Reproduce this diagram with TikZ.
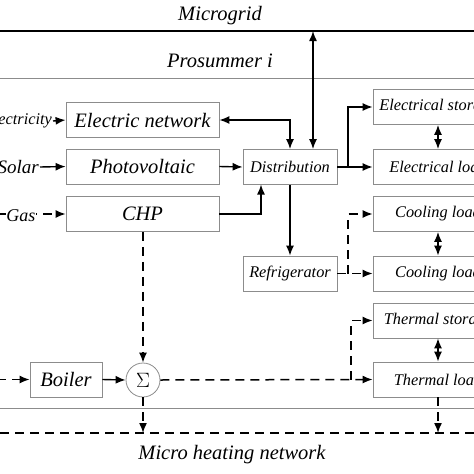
\documentclass[tikz,border=0pt]{standalone}
\usepackage{fontspec}
\setmainfont{Liberation Serif}
\usetikzlibrary{arrows.meta,calc}
\begin{document}
\begin{tikzpicture}[x=1pt,y=-1pt,
  fbig/.style={font=\fontsize{20.5}{24}\selectfont\itshape},
  fsmall/.style={font=\fontsize{16.3}{19}\selectfont\itshape},
  blk/.style={draw=black!45,line width=0.8pt,inner sep=0pt,minimum height=35pt},
  lbox/.style={blk,fbig,minimum width=153pt},
  mbox/.style={blk,fsmall,minimum width=94pt},
  rbox/.style={blk,fsmall,minimum width=130pt},
  tip/.style={-{Latex[length=10pt,width=8pt]}},
  dtip/.style={{Latex[length=10pt,width=8pt]}-{Latex[length=10pt,width=8pt]}},
  conn/.style={tip,line width=1.4pt},
  dconn/.style={dtip,line width=1.4pt},
  dashline/.style={line width=1.5pt,dash pattern=on 9pt off 6pt},
  dasharr/.style={dashline,tip},
  plain/.style={inner sep=1pt}
]
\useasboundingbox (0,0) rectangle (474,474);
% top labels and lines
\node[plain,fbig] (mgl) at (220,16) {Microgrid};
\node[plain,fbig] (psl) at (220,61) {Prosummer i};
\coordinate (mgL) at (0,31);
\coordinate (mgR) at (474,31);
\draw[line width=1.6pt] (mgL) -- (mgR);
\coordinate (pTL) at (0,78);
\coordinate (pTR) at (474,78);
\coordinate (pBL) at (0,408);
\coordinate (pBR) at (474,408);
\draw[black!45,line width=0.8pt] (pTL) -- (pTR);
\draw[black!45,line width=0.8pt] (pBL) -- (pBR);
% left column
\node[lbox] (en) at (142.5,120) {Electric network};
\node[lbox] (pv) at (142.5,166.5) {Photovoltaic};
\node[lbox] (chp) at (142.5,214) {CHP};
\node[blk,fbig,minimum width=72pt] (boil) at (66,379.5) {Boiler};
\node[circle,draw=black!45,line width=0.8pt,minimum size=34pt,inner sep=0pt,font=\fontsize{22}{24}\selectfont] (sig) at (143,380) {$\Sigma$};
% middle
\node[mbox] (dist) at (290,167) {Distribution};
\node[mbox] (ref) at (290,273.5) {Refrigerator};
% right column
\node[rbox] (es) at (438,107) {Electrical storage};
\node[rbox] (el) at (438,167) {Electrical load};
\node[rbox] (cl1) at (438,214) {Cooling load};
\node[rbox] (cl2) at (438,273.5) {Cooling load};
\node[rbox] (ts) at (438,320.5) {Thermal storage};
\node[rbox] (tl) at (438,379.5) {Thermal load};
% inputs
\node[plain,fsmall,anchor=east] (elin) at (53,121) {Electricity};
\node[plain,font=\fontsize{19}{21}\selectfont\itshape,anchor=east] (solin) at (40,167) {Solar};
\coordinate (gasS) at (-2,214);
\draw[dasharr] (gasS) -- (chp.west);
\node[font=\fontsize{18}{20}\selectfont\itshape,fill=white,inner sep=0.5pt] (gasin) at (21,215.5) {Gas};
\draw[conn] (elin.east) -- (en.west);
\draw[conn] (solin.east) -- (pv.west);
% electric connections
\coordinate (mg) at (313,31);
\draw[dconn] (mg) -- (mg |- dist.north);
\draw[dconn] (en.east) -| (dist.north);
\draw[conn] (pv.east) -- (dist.west);
\coordinate (c1) at (261,184.5);
\draw[conn] (chp.east) -| (c1);
\coordinate (j1) at (348,167);
\draw[line width=1.4pt] (dist.east) -- (j1);
\draw[conn] (j1) |- (es.west);
\draw[conn] (dist.east) -- (el.west);
\draw[conn] (dist.south) -- (ref.north);
\draw[dconn] (es.south) -- (el.north);
\draw[dconn] (cl1.south) -- (cl2.north);
\draw[dconn] (ts.south) -- (tl.north);
% cooling
\draw[dasharr] (ref.east) -- (cl2.west);
\coordinate (j2) at (348,273.5);
\draw[dasharr] (j2) |- (cl1.west);
% heat
\coordinate (bS) at (-3,379.5);
\draw[dasharr] (bS) -- (boil.west);
\draw[conn] (boil.east) -- (sig.west);
\draw[dasharr] (chp.south -| sig.north) -- (sig.north);
\draw[dasharr] (sig.east) -- (tl.west);
\coordinate (j3) at (351,379.5);
\draw[dasharr] (j3) |- (ts.west);
\coordinate (hL) at (0,433);
\coordinate (hR) at (474,433);
\draw[dashline] (hL) -- (hR);
\draw[dasharr] (sig.south) -- (sig.south |- hL);
\draw[dasharr] (tl.south) -- (tl.south |- hL);
\node[plain,fbig] (mhn) at (232,455) {Micro heating network};
\end{tikzpicture}
\end{document}
